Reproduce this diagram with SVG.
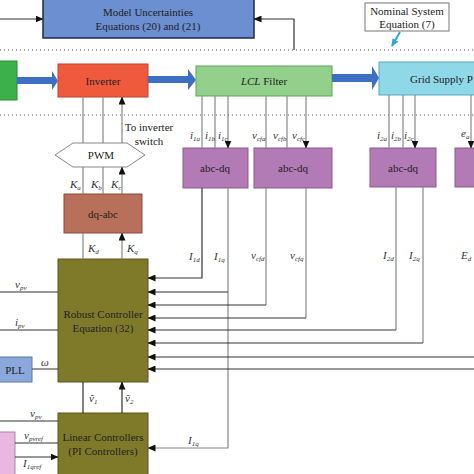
<svg xmlns="http://www.w3.org/2000/svg" width="474" height="474" viewBox="0 0 474 474" font-family="'Liberation Serif', 'Times New Roman', serif">
<defs>
<marker id="ah" markerWidth="8" markerHeight="7" refX="7.5" refY="3.5" orient="auto" markerUnits="userSpaceOnUse"><path d="M0,0 L8,3.5 L0,7 z" fill="#111"/></marker>
<marker id="ahc" markerWidth="8" markerHeight="7" refX="7" refY="3.5" orient="auto" markerUnits="userSpaceOnUse"><path d="M0,0 L8,3.5 L0,7 z" fill="#2aa8d8"/></marker>
<style>
text{font-family:'Liberation Serif','Times New Roman',serif;fill:#222}
.bt{font-size:11px;text-anchor:middle}
.lb{font-size:11px;font-style:italic;fill:#333}
.sb{font-size:7px}
.ln{fill:none;stroke:#333;stroke-width:1.2}
.gl{fill:none;stroke:#888;stroke-width:1.2}
.ar{marker-end:url(#ah)}
.dot{stroke:#555;stroke-width:1;stroke-dasharray:1,3}
.blue{fill:#3d6fc4}
.pur{fill:#b27bb5;stroke:#8a5a8c;stroke-width:1}
</style>
</defs>
<rect width="474" height="474" fill="#fff"/>
<line class="dot" x1="0" y1="50" x2="474" y2="50"/>
<line class="dot" x1="0" y1="115" x2="474" y2="115"/>

<g id="model-uncertainties"><rect x="43" y="-5" width="211" height="43" fill="#6b8fd1" stroke="#1e2a44" stroke-width="1.5"/><text class="bt" x="148" y="16">Model Uncertainties</text><text class="bt" x="148" y="30">Equations (20) and (21)</text></g>
<g id="nominal"><rect x="365" y="3" width="84" height="28" fill="#fff" stroke="#777" stroke-width="1"/><text class="bt" x="407" y="15">Nominal System</text><text class="bt" x="407" y="28">Equation (7)</text></g>
<g id="source"><rect x="-2" y="61" width="19" height="39" fill="#3cb14a" stroke="#2a8a35"/></g>
<g id="inverter"><rect x="58" y="64" width="90" height="33" fill="#f05a3c" stroke="#c0402a"/><text class="bt" x="103" y="85">Inverter</text></g>
<g id="lcl"><rect x="196" y="66" width="136" height="30" fill="#92d08c" stroke="#5fa35a"/><text class="bt" x="264" y="85"><tspan font-style="italic">LCL</tspan> Filter</text></g>
<g id="grid"><rect x="379" y="62" width="100" height="33" fill="#8ed8e8" stroke="#5aa8b8"/><text class="bt" x="473" y="83" style="text-anchor:end">Grid Supply P</text></g>
<g id="pwm"><polygon points="55,155 73,143 127,143 145,155 127,167 73,167" fill="#fff" stroke="#888"/><text class="bt" x="101" y="159">PWM</text></g>
<g id="dqabc"><rect x="64" y="194" width="78" height="39" fill="#b8705a" stroke="#8a4a3a"/><text class="bt" x="103" y="218">dq-abc</text></g>
<g id="abcdq1"><rect class="pur" x="183" y="148" width="65" height="40"/><text class="bt" x="215" y="172">abc-dq</text></g>
<g id="abcdq2"><rect class="pur" x="254" y="148" width="78" height="40"/><text class="bt" x="293" y="172">abc-dq</text></g>
<g id="abcdq3"><rect class="pur" x="370" y="148" width="66" height="39"/><text class="bt" x="403" y="172">abc-dq</text></g>
<g id="abcdq4"><rect class="pur" x="455" y="148" width="30" height="39"/></g>
<g id="robust"><rect x="58" y="259" width="90" height="123" fill="#7f7a2a" stroke="#5a561c"/><text class="bt" x="103" y="318">Robust Controller</text><text class="bt" x="103" y="332">Equation (32)</text></g>
<g id="pll"><rect x="-2" y="357" width="34" height="25" fill="#8aa8dc" stroke="#5a78a8"/><text class="bt" x="15" y="374">PLL</text></g>
<g id="linear"><rect x="58" y="413" width="90" height="70" fill="#7f7a2a" stroke="#5a561c"/><text class="bt" x="103" y="441">Linear Controllers</text><text class="bt" x="103" y="455">(PI Controllers)</text></g>
<g id="ref"><rect x="-2" y="432" width="17" height="50" fill="#e8b8e0" stroke="#b080a8"/></g>

<g id="connectors">
<polygon class="blue" points="17,77 52,77 52,71 58,81 52,90 52,84 17,84"/>
<polygon class="blue" points="148,76 188,76 188,69 196,80 188,90 188,83 148,83"/>
<polygon class="blue" points="332,74 372,74 372,66 379,78 372,90 372,82 332,82"/>
<path class="ln ar" d="M0,19 H43"/>
<path class="ln ar" d="M294,50 V19 H254" stroke-width="1.5"/>
<path d="M400,32 L392,46" fill="none" stroke="#2aa8d8" stroke-width="2" marker-end="url(#ahc)"/>
<path class="gl ar" d="M83,143 V97 M103,143 V97 M122,143 V97"/>
<path class="gl ar" d="M83,194 V167 M103,194 V167 M122,194 V167"/>
<path class="gl ar" d="M83,259 V233 M122,259 V233"/>
<path class="gl ar" d="M202,96 V148 M215,96 V148 M228,96 V148"/>
<path class="gl ar" d="M266,96 V148 M287,96 V148 M306,96 V148"/>
<path class="gl ar" d="M389,95 V148 M403,95 V148 M415,95 V148"/>
<path class="gl ar" d="M471,95 V148"/>
<path class="ln ar" d="M202,188 V278 H148" stroke="#555"/>
<path class="gl ar" d="M228,188 V448 H148"/>
<path class="ln ar" d="M228,292 H148"/>
<path class="gl" d="M266,188 V305"/><path class="ln ar" d="M266,305 H148"/>
<path class="gl" d="M306,188 V318"/><path class="ln ar" d="M306,318 H148"/>
<path class="gl" d="M396,187 V330"/><path class="ln ar" d="M396,330 H148"/>
<path class="gl" d="M423,187 V343"/><path class="ln ar" d="M423,343 H148"/>
<path class="ln ar" d="M474,357 H148"/>
<path class="ln ar" d="M474,369 H148"/>
<path class="ln ar" d="M0,292 H58 M0,330 H58 M32,369 H58 M0,421 H58 M15,443 H58 M15,457 H58"/>
<path class="ln ar" d="M83,413 V382 M122,413 V382"/>
</g>

<g id="labels">
<text class="bt" x="149" y="131">To inverter</text><text class="bt" x="149" y="145">switch</text>
<text class="lb" x="70" y="188">K<tspan class="sb" dy="2">a</tspan></text>
<text class="lb" x="91" y="188">K<tspan class="sb" dy="2">b</tspan></text>
<text class="lb" x="111" y="188">K<tspan class="sb" dy="2">c</tspan></text>
<text class="lb" x="88" y="252">K<tspan class="sb" dy="2">d</tspan></text>
<text class="lb" x="127" y="252">K<tspan class="sb" dy="2">q</tspan></text>
<text class="lb" x="190" y="139">i<tspan class="sb" dy="2">1a</tspan></text>
<text class="lb" x="205" y="139">i<tspan class="sb" dy="2">1b</tspan></text>
<text class="lb" x="218" y="139">i<tspan class="sb" dy="2">1c</tspan></text>
<text class="lb" x="252" y="139">v<tspan class="sb" dy="2">cfa</tspan></text>
<text class="lb" x="273" y="139">v<tspan class="sb" dy="2">cfb</tspan></text>
<text class="lb" x="292" y="139">v<tspan class="sb" dy="2">cfc</tspan></text>
<text class="lb" x="377" y="139">i<tspan class="sb" dy="2">2a</tspan></text>
<text class="lb" x="391" y="139">i<tspan class="sb" dy="2">2b</tspan></text>
<text class="lb" x="404" y="139">i<tspan class="sb" dy="2">2c</tspan></text>
<text class="lb" x="461" y="137">e<tspan class="sb" dy="2">a</tspan></text>
<text class="lb" x="189" y="260">I<tspan class="sb" dy="2">1d</tspan></text>
<text class="lb" x="214" y="260">I<tspan class="sb" dy="2">1q</tspan></text>
<text class="lb" x="251" y="259">v<tspan class="sb" dy="2">cfd</tspan></text>
<text class="lb" x="290" y="259">v<tspan class="sb" dy="2">cfq</tspan></text>
<text class="lb" x="383" y="259">I<tspan class="sb" dy="2">2d</tspan></text>
<text class="lb" x="409" y="259">I<tspan class="sb" dy="2">2q</tspan></text>
<text class="lb" x="461" y="259">E<tspan class="sb" dy="2">d</tspan></text>
<text class="lb" x="15" y="288">v<tspan class="sb" dy="2">pv</tspan></text>
<text class="lb" x="15" y="326">i<tspan class="sb" dy="2">pv</tspan></text>
<text class="lb" x="41" y="366">ω</text>
<text class="lb" x="89" y="402">ṽ<tspan class="sb" dy="2">1</tspan></text>
<text class="lb" x="125" y="402">ṽ<tspan class="sb" dy="2">2</tspan></text>
<text class="lb" x="30" y="417">v<tspan class="sb" dy="2">pv</tspan></text>
<text class="lb" x="24" y="439">v<tspan class="sb" dy="2">pvref</tspan></text>
<text class="lb" x="23" y="467">I<tspan class="sb" dy="2">1qref</tspan></text>
<text class="lb" x="188" y="444">I<tspan class="sb" dy="2">1q</tspan></text>
</g>
</svg>
